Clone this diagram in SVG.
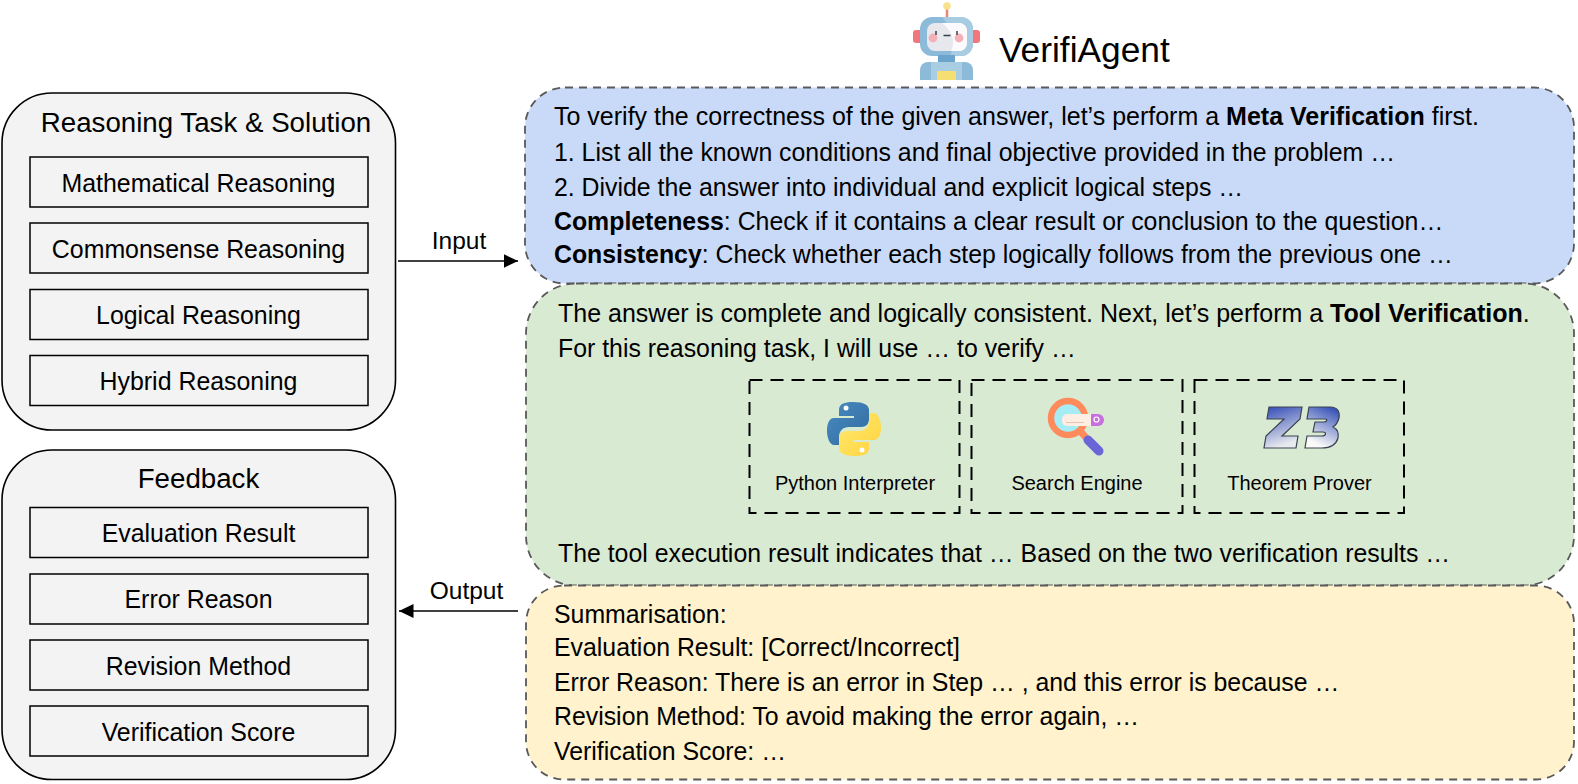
<svg xmlns="http://www.w3.org/2000/svg" width="1578" height="784" viewBox="0 0 1578 784">
<style>
text{font-family:"Liberation Sans",Arial,sans-serif;fill:#000}
.t{font-size:24.850px}
.w{font-size:25px}
.c{font-size:24.900px;text-anchor:middle}
.h{font-size:27.700px;text-anchor:middle}
.s{font-size:20px;text-anchor:middle}
.l{font-size:24.500px;text-anchor:middle}
.panel{fill:#f3f3f3;stroke:#000;stroke-width:1.600}
.item{fill:#f3f3f3;stroke:#000;stroke-width:1.500}
.box{stroke:#595959;stroke-width:1.800;stroke-dasharray:8 6}
.tool{fill:none;stroke:#000;stroke-width:2;stroke-dasharray:13 8}
.ln{stroke:#000;stroke-width:1.700;fill:none}
.b{font-weight:700}
</style>
<defs>
<marker id="ah" markerUnits="userSpaceOnUse" markerWidth="16" markerHeight="16" refX="14.500" refY="7" orient="auto"><path d="M0 0L14.500 7L0 14Z" fill="#000"/></marker>
<linearGradient id="zg" x1="0" y1="0" x2="0.300" y2="1"><stop offset="0" stop-color="#2f49b5"/><stop offset="1" stop-color="#e8eaee"/></linearGradient>
<linearGradient id="zh" x1="0.700" y1="0" x2="0.300" y2="1"><stop offset="0" stop-color="#3a55b8"/><stop offset="0.900" stop-color="#fafaf8"/></linearGradient>
<linearGradient id="py1" x1="0" y1="0" x2="1" y2="1"><stop offset="0" stop-color="#4a8cc2"/><stop offset="1" stop-color="#2f6a9e"/></linearGradient>
<linearGradient id="py2" x1="0" y1="0" x2="1" y2="1"><stop offset="0" stop-color="#ffd43b"/><stop offset="1" stop-color="#ffe873"/></linearGradient>
</defs>

<g id="reasoning-panel">
<rect class="panel" x="2" y="93" width="393.500" height="337" rx="50"/>
<text class="h" x="206" y="131.500">Reasoning Task &amp; Solution</text>
<rect class="item" x="30" y="157" width="338" height="50"/><text class="c" x="198.500" y="192">Mathematical Reasoning</text>
<rect class="item" x="30" y="223" width="338" height="50"/><text class="c" x="198.500" y="257.500">Commonsense Reasoning</text>
<rect class="item" x="30" y="289.500" width="338" height="50"/><text class="c" x="198.500" y="324">Logical Reasoning</text>
<rect class="item" x="30" y="355.500" width="338" height="50"/><text class="c" x="198.500" y="390">Hybrid Reasoning</text>
</g>

<g id="feedback-panel">
<rect class="panel" x="2" y="450" width="393.500" height="329.500" rx="50"/>
<text class="h" x="198.500" y="488">Feedback</text>
<rect class="item" x="30" y="507.500" width="338" height="50"/><text class="c" x="198.500" y="542">Evaluation Result</text>
<rect class="item" x="30" y="574" width="338" height="50"/><text class="c" x="198.500" y="608">Error Reason</text>
<rect class="item" x="30" y="640" width="338" height="50"/><text class="c" x="198.500" y="675">Revision Method</text>
<rect class="item" x="30" y="706" width="338" height="50"/><text class="c" x="198.500" y="740.500">Verification Score</text>
</g>

<g id="connectors">
<path class="ln" d="M398 261H518" marker-end="url(#ah)"/>
<path class="ln" d="M518 611H399" marker-end="url(#ah)"/>
</g>
<g id="connector-labels">
<text class="l" x="459" y="249">Input</text>
<text class="l" x="466.500" y="599">Output</text>
</g>

<g id="title">
<g id="robot">
<path d="M947 18V9" stroke="#f0826f" stroke-width="2.500"/>
<circle cx="947" cy="6" r="3.800" fill="#f7e08e"/>
<rect x="913" y="30" width="10" height="13" rx="3" fill="#f3767c"/>
<rect x="970" y="30" width="10" height="13" rx="3" fill="#f3767c"/>
<rect x="920" y="17" width="53" height="39" rx="12" fill="#8cbbd9"/>
<path d="M942 17H961a12 12 0 0 1 12 12V44a12 12 0 0 1-12 12H950C957 42 952 28 942 17Z" fill="#a8cde3"/>
<rect x="927" y="23" width="40" height="28" rx="8" fill="#e6e8ee"/>
<path d="M942 23H959a8 8 0 0 1 8 8V43a8 8 0 0 1-8 8H951C956 41 952 31 942 23Z" fill="#fbfbfd"/>
<circle cx="933" cy="38" r="4.400" fill="#f3b0b8"/><circle cx="959" cy="38" r="4.400" fill="#f3b0b8"/>
<path d="M936 31v4M957 31v4M943.500 35.500h7" stroke="#3a3f4c" stroke-width="1.500" fill="none"/>
<rect x="938" y="55" width="17" height="8" fill="#6ba5cc"/>
<path d="M920 80V70a8 8 0 0 1 8-8H965a8 8 0 0 1 8 8V80Z" fill="#8cbbd9"/>
<path d="M931 80V62H962V80Z" fill="#a9cde2"/>
<rect x="937" y="71" width="19" height="9" fill="#f5de72"/>
</g>
<text x="999" y="62" font-size="35.300">VerifiAgent</text>
</g>

<g id="meta-verification">
<rect class="box" x="525" y="87.500" width="1049" height="196" rx="40" fill="#c9daf8"/>
<text class="w" x="554" y="125">To verify the correctness of the given answer, let’s perform a <tspan class="b">Meta Verification</tspan> first.</text>
<text class="t" x="554" y="160.500">1. List all the known conditions and final objective provided in the problem …</text>
<text class="t" x="554" y="195.500">2. Divide the answer into individual and explicit logical steps …</text>
<text class="t" x="554" y="229.500"><tspan class="b">Completeness</tspan>: Check if it contains a clear result or conclusion to the question…</text>
<text class="t" x="554" y="263"><tspan class="b">Consistency</tspan>: Check whether each step logically follows from the previous one …</text>
</g>

<g id="tool-verification">
<rect class="box" x="526" y="283.500" width="1048" height="302" rx="50" fill="#d9ead3"/>
<text class="w" x="558" y="321.500">The answer is complete and logically consistent. Next, let’s perform a <tspan class="b">Tool Verification</tspan>.</text>
<text class="t" x="558" y="356.500">For this reasoning task, I will use … to verify …</text>
<text class="t" x="558" y="562">The tool execution result indicates that … Based on the two verification results …</text>
</g>

<g id="python-tool">
<rect class="tool" x="749.500" y="380" width="210" height="133"/>
<path d="M853 402c-9 0-14 2-14 8v6h15v2h-20c-5 0-7 6-7 13s3 14 7 14h5v-8c0-6 4-10 10-10h12c5 0 8-3 8-8v-9c0-5-5-8-16-8Z" fill="url(#py1)"/>
<circle cx="846" cy="408" r="2.500" fill="#fff"/>
<path d="M853 402c-9 0-14 2-14 8v6h15v2h-20c-5 0-7 6-7 13s3 14 7 14h5v-8c0-6 4-10 10-10h12c5 0 8-3 8-8v-9c0-5-5-8-16-8Z" transform="rotate(180 854 429)" fill="url(#py2)"/>
<circle cx="862" cy="450" r="2.500" fill="#fff"/>
<text class="s" x="855" y="490">Python Interpreter</text>
</g>

<g id="search-tool">
<rect class="tool" x="971.500" y="380" width="211" height="133"/>
<path d="M1081 432L1088 440" stroke="#ff8a5c" stroke-width="7"/>
<path d="M1088 440L1099 451" stroke="#6a66d8" stroke-width="9" stroke-linecap="round"/>
<circle cx="1068" cy="418" r="17" fill="#a5ecf5" stroke="#ff8a5c" stroke-width="6.500"/>
<rect x="1062" y="414" width="36" height="12" rx="5" fill="#fdeee3"/>
<path d="M1091 414h7a6 6 0 0 1 0 12h-7Z" fill="#c86fe0"/>
<path d="M1066 422.500H1084" stroke="#f2c0ae" stroke-width="1"/>
<circle cx="1096.500" cy="419.500" r="2.500" fill="none" stroke="#fff" stroke-width="1.200"/>
<text class="s" x="1077" y="490">Search Engine</text>
</g>

<g id="z3-tool">
<rect class="tool" x="1194.500" y="380" width="209.500" height="133"/>
<path d="M1269 407H1302L1300 419L1282 436H1298L1296 448H1264L1266 436L1284 419H1267Z" fill="url(#zg)" stroke="#3c4250" stroke-width="1.200"/>
<path d="M1309 407H1330C1338 407 1340 412 1339 418C1338 422 1336 425 1333 427C1337 429 1339 433 1338 438C1336 445 1331 448 1322 448H1305L1307 436H1322C1326 436 1327 432 1323 432H1313L1315 422H1324C1327 422 1328 419 1325 419H1307Z" fill="url(#zh)" stroke="#3c4250" stroke-width="1.200"/>
<text class="s" x="1299.500" y="490">Theorem Prover</text>
</g>

<g id="summarisation">
<rect class="box" x="526" y="585.500" width="1048" height="194" rx="38" fill="#fff2cc"/>
<text class="t" x="554" y="622.500">Summarisation:</text>
<text class="t" x="554" y="656">Evaluation Result: [Correct/Incorrect]</text>
<text class="t" x="554" y="690.500">Error Reason: There is an error in Step … , and this error is because …</text>
<text class="t" x="554" y="725">Revision Method: To avoid making the error again, …</text>
<text class="t" x="554" y="760">Verification Score: …</text>
</g>
</svg>
